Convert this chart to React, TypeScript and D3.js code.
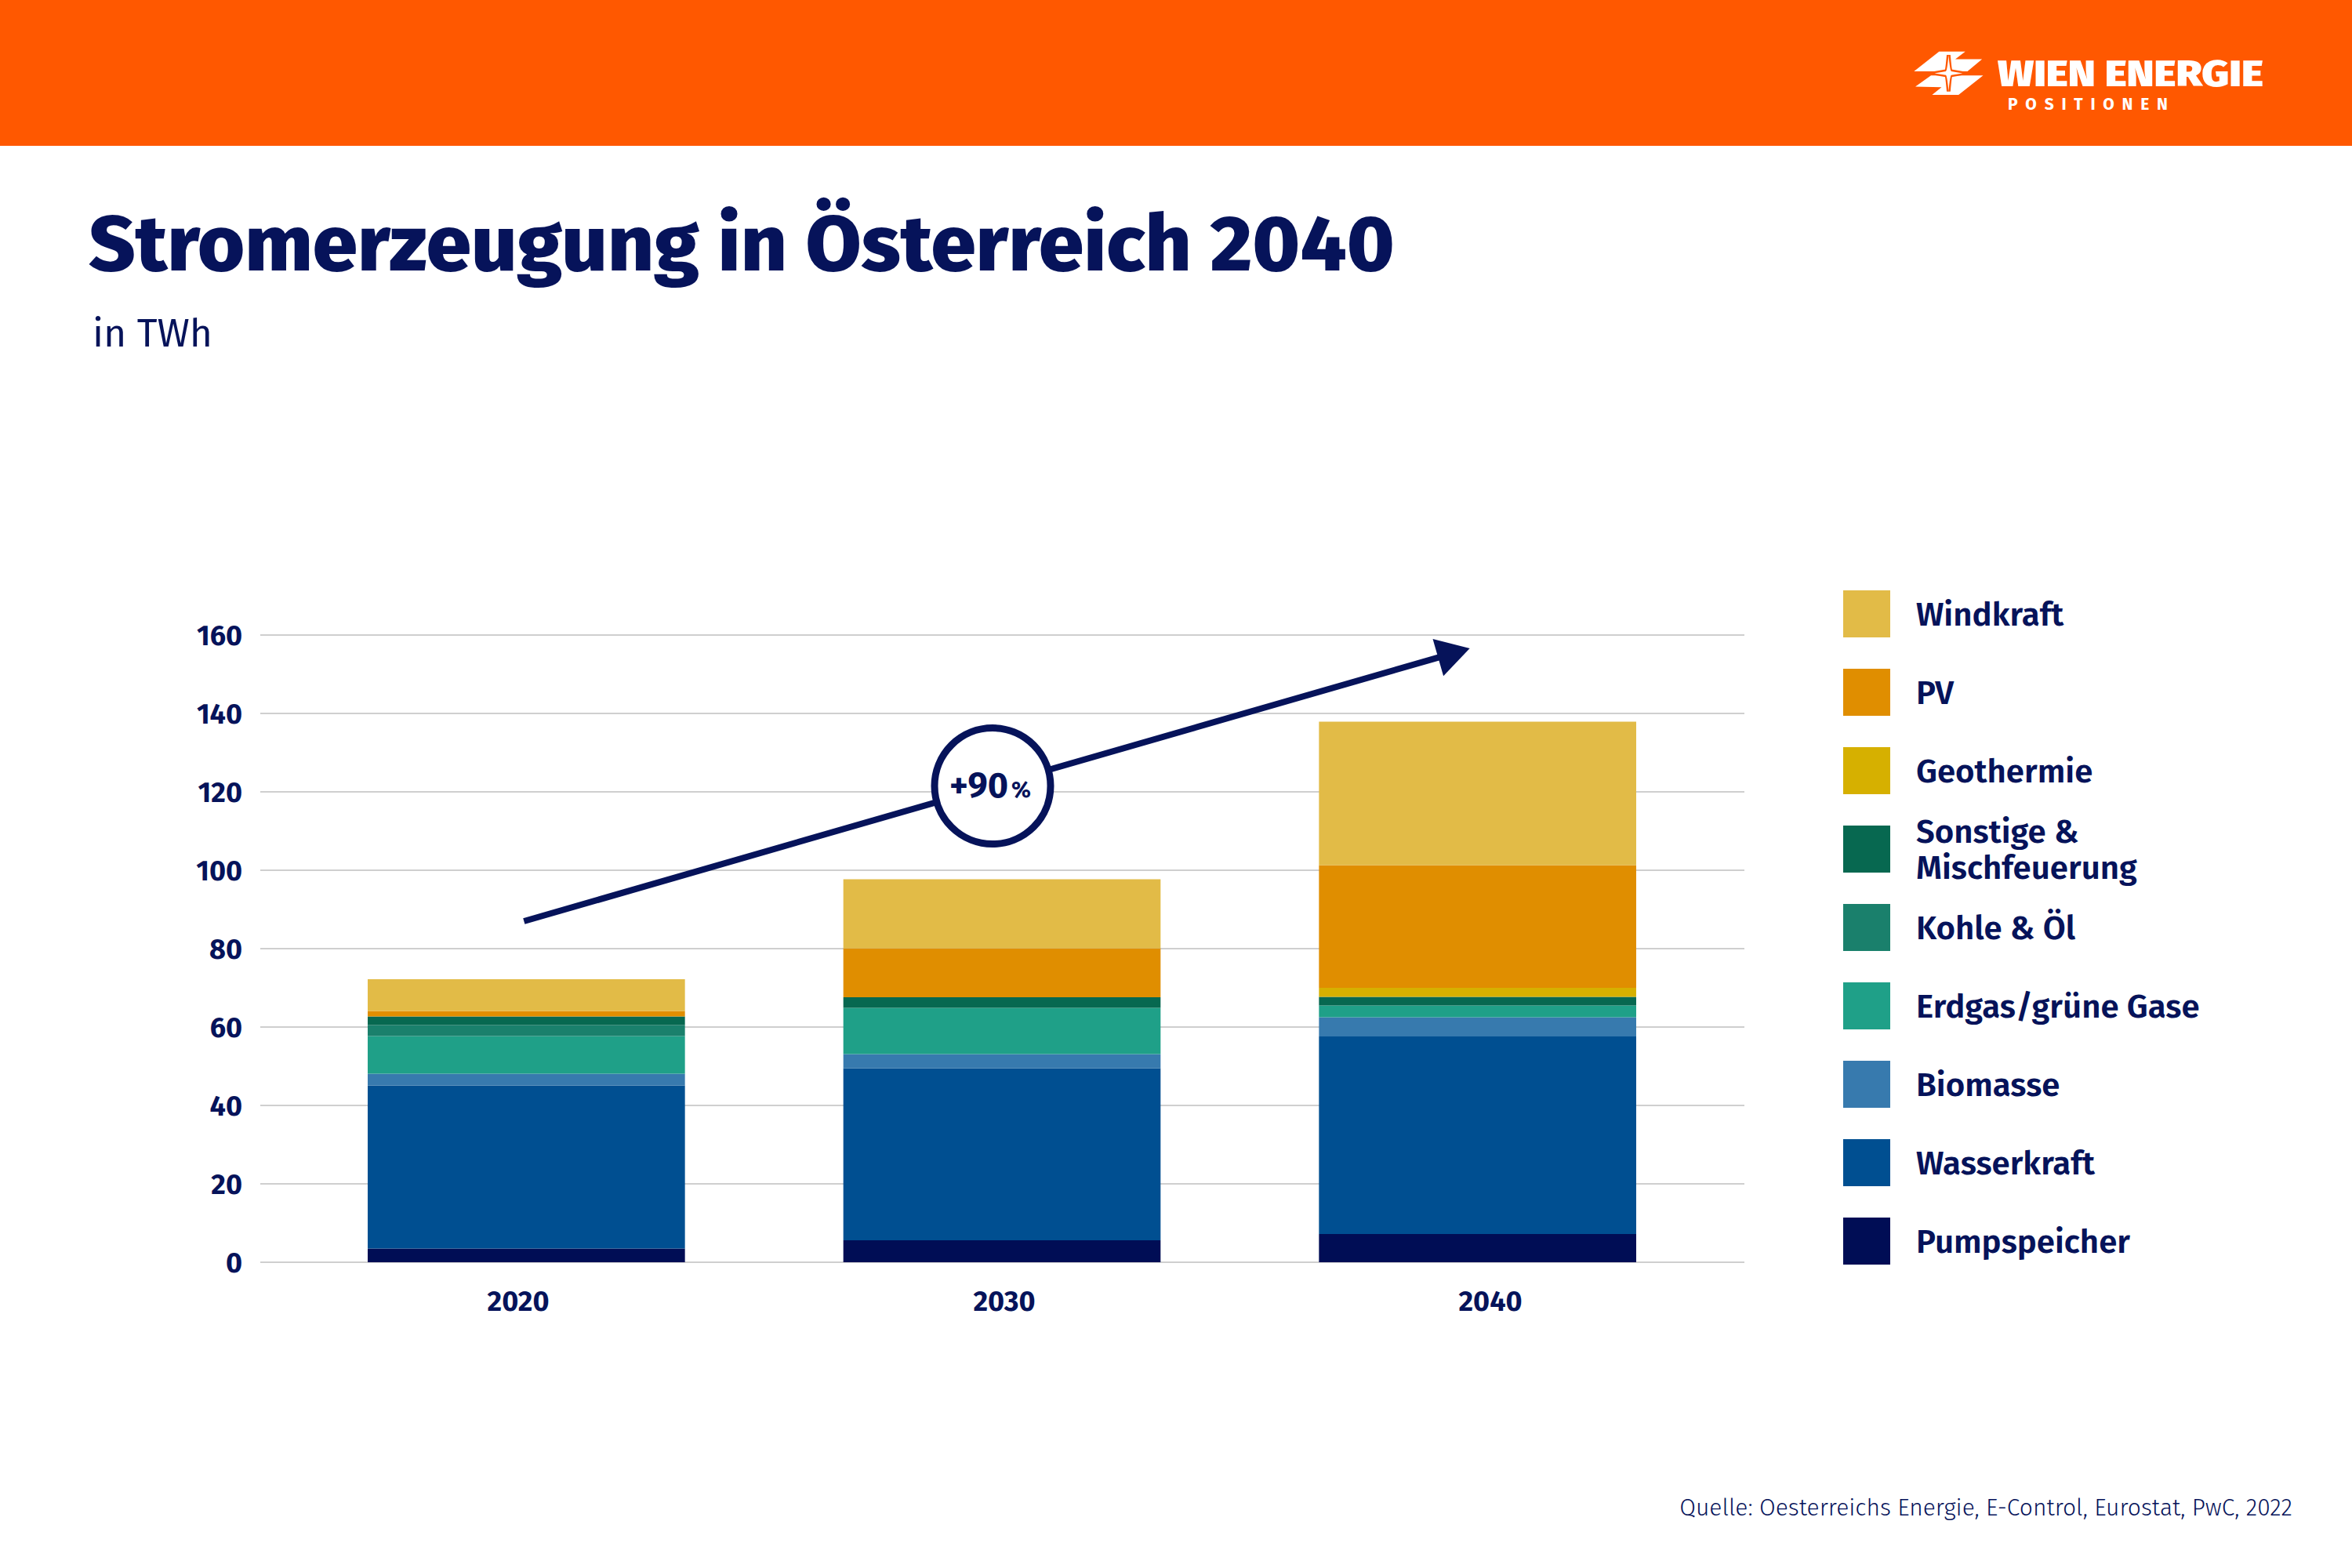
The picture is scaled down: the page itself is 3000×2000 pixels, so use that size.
import React, { useEffect } from 'react';
import * as d3 from 'd3';

// Stromerzeugung in Österreich, TWh
const years = ['2020', '2030', '2040'];
const pumpspeicher = [3.5, 5.6, 7.2];
const wasserkraft = [41.6, 43.9, 50.4];
const biomasse = [3.0, 3.6, 4.9];
const erdgas = [9.6, 11.8, 3.0];
const kohle = [2.8, 0, 0];
const sonstige = [2.2, 2.7, 2.2];
const geothermie = [0, 0, 2.3];
const pv = [1.4, 12.5, 31.3];
const windkraft = [8.1, 17.6, 36.6];

// bottom -> top
const seriesKeys = ['Pumpspeicher', 'Wasserkraft', 'Biomasse', 'Erdgas', 'Kohle', 'Sonstige', 'Geothermie', 'PV', 'Windkraft'];
const seriesColors = ['#000d55', '#004f91', '#377aae', '#1fa088', '#1a806c', '#076850', '#d6b000', '#e08e00', '#e2bb47'];
// legend top -> bottom
const legendLabels = [
  ['Windkraft'],
  ['PV'],
  ['Geothermie'],
  ['Sonstige &', 'Mischfeuerung'],
  ['Kohle & Öl'],
  ['Erdgas/grüne Gase'],
  ['Biomasse'],
  ['Wasserkraft'],
  ['Pumpspeicher'],
];
const yTicks = [0, 20, 40, 60, 80, 100, 120, 140, 160];

// +90% arrow, from/to in data terms
const arrowFrom = { year: '2020', value: 87 };
const arrowTo = { year: '2040', value: 156.6 };
const growthLabel = '+90';

const NAVY = '#06135a';
const FONT = "'Fira Sans', Roboto, 'Noto Sans', sans-serif";

function App() {
  useEffect(() => {
    document.body.style.margin = '0';
  }, []);

  const width = 3000;
  const height = 2000;

  const table = years.map((yr, i) => ({
    year: yr,
    Pumpspeicher: pumpspeicher[i],
    Wasserkraft: wasserkraft[i],
    Biomasse: biomasse[i],
    Erdgas: erdgas[i],
    Kohle: kohle[i],
    Sonstige: sonstige[i],
    Geothermie: geothermie[i],
    PV: pv[i],
    Windkraft: windkraft[i],
  }));
  const stacked = d3.stack().keys(seriesKeys)(table as any);

  const x = d3.scaleBand().domain(years).range([368, 2188]).paddingInner(0.333).paddingOuter(0.1665);
  const xLabel = d3.scaleBand().domain(years).range([351, 2211]);
  const y = d3.scaleLinear().domain([0, 160]).range([1610, 810]);
  const color = d3.scaleOrdinal<string>().domain(seriesKeys).range(seriesColors);

  const gridX0 = 332;
  const gridX1 = 2225;

  // arrow geometry
  const ax0 = (x(arrowFrom.year) as number) + x.bandwidth() / 2 - 3;
  const ay0 = y(arrowFrom.value);
  const ax1 = (x(arrowTo.year) as number) + x.bandwidth() / 2 - 10;
  const ay1 = y(arrowTo.value);
  const len = Math.hypot(ax1 - ax0, ay1 - ay0);
  const ux = (ax1 - ax0) / len;
  const uy = (ay1 - ay0) / len;
  const headLen = 42;
  const headHalf = 24.5;
  const bx = ax1 - ux * headLen;
  const by = ay1 - uy * headLen;
  const head = [
    [ax1, ay1],
    [bx - uy * headHalf, by + ux * headHalf],
    [bx + uy * headHalf, by - ux * headHalf],
  ];
  const cx = (x('2030') as number) + x.bandwidth() / 2 - 12;
  const cy = ay0 + ((cx - ax0) / (ax1 - ax0)) * (ay1 - ay0);

  return (
    <svg width={width} height={height} style={{ display: 'block', background: '#fff' }} fontFamily={FONT}>
      {/* header */}
      <rect x={0} y={0} width={width} height={186} fill="#ff5800" />
      <g transform="translate(2400,40) scale(0.3444)" fill="#fff">
        <polygon points="213,75 310,75 273,103 372,103 318,148 120,148" />
        <polygon points="183,163 376,163 285,235 187,235 222,207 125,205" />
        <path d="M248,88 Q253,145 258,148 L300,155 L258,162 Q253,165 248,222 Q243,165 238,162 L196,155 L238,148 Q243,145 248,88 Z" fill="#ff5800" stroke="#ff5800" strokeWidth={14} />
        <path d="M248,88 Q253,145 258,148 L300,155 L258,162 Q253,165 248,222 Q243,165 238,162 L196,155 L238,148 Q243,145 248,88 Z" />
      </g>
      <text x={2548} y={110} fill="#fff" fontSize={47} fontWeight={900} textLength={339} lengthAdjust="spacingAndGlyphs">WIEN ENERGIE</text>
      <text x={2561} y={140} fill="#fff" fontSize={21} fontWeight={700} textLength={204} lengthAdjust="spacing">POSITIONEN</text>

      {/* title */}
      <text x={113} y={345} fill={NAVY} fontSize={100} fontWeight={800} textLength={1666} lengthAdjust="spacingAndGlyphs">Stromerzeugung in Österreich 2040</text>
      <text x={118} y={442} fill={NAVY} fontSize={50} fontWeight={400}>in TWh</text>

      {/* grid + y axis */}
      {yTicks.map((t) => (
        <g key={t}>
          <line x1={gridX0} x2={gridX1} y1={y(t)} y2={y(t)} stroke="#cfcfcf" strokeWidth={2} />
          <text x={309} y={y(t)} dy="0.35em" textAnchor="end" fill={NAVY} fontSize={36} fontWeight={700}>{t}</text>
        </g>
      ))}

      {/* bars */}
      {stacked.map((s) => (
        <g key={s.key} fill={color(s.key)}>
          {s.map((d, j) => (
            <rect
              key={years[j]}
              x={x(years[j])}
              y={y(d[1])}
              width={x.bandwidth()}
              height={Math.max(0, y(d[0]) - y(d[1]))}
            />
          ))}
        </g>
      ))}

      {/* x labels */}
      {years.map((yr) => (
        <text key={yr} x={(xLabel(yr) as number) + xLabel.bandwidth() / 2} y={1672} textAnchor="middle" fill={NAVY} fontSize={36} fontWeight={700}>{yr}</text>
      ))}

      {/* growth arrow */}
      <line x1={ax0} y1={ay0} x2={bx + ux * 4} y2={by + uy * 4} stroke={NAVY} strokeWidth={8} />
      <polygon points={head.map((p) => p.join(',')).join(' ')} fill={NAVY} />
      <circle cx={cx} cy={cy} r={74} fill="#fff" stroke={NAVY} strokeWidth={9} />
      <text x={cx - 3} y={cy + 14} textAnchor="middle" fill={NAVY} fontWeight={700}>
        <tspan fontSize={45}>{growthLabel}</tspan>
        <tspan fontSize={29} dx={4}>%</tspan>
      </text>

      {/* legend */}
      {legendLabels.map((lines, i) => {
        const top = 753 + i * 100;
        const mid = top + 30;
        return (
          <g key={i}>
            <rect x={2351} y={top} width={60} height={60} fill={seriesColors[seriesKeys.length - 1 - i]} />
            {lines.map((ln, k) => (
              <text key={k} x={2444} y={mid + (k - (lines.length - 1) / 2) * 46} dy="0.35em" fill={NAVY} fontSize={42} fontWeight={600}>{ln}</text>
            ))}
          </g>
        );
      })}

      {/* source */}
      <text x={2924} y={1933} textAnchor="end" fill={NAVY} fontSize={30} fontWeight={300}>Quelle: Oesterreichs Energie, E-Control, Eurostat, PwC, 2022</text>
    </svg>
  );
}

export default App;
